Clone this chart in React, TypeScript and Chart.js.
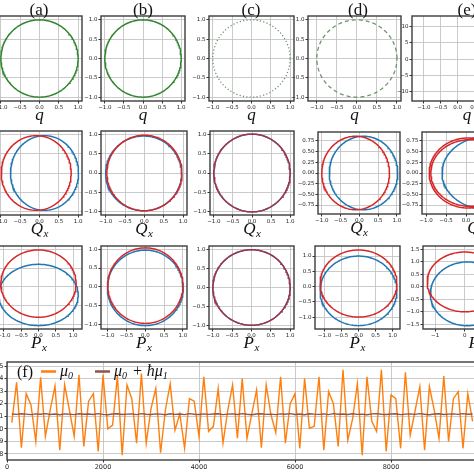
import React, { useEffect, useRef } from 'react';
import { Chart, registerables } from 'chart.js';
Chart.register(...registerables);

// ---------------- tick values ----------------
const TICKS_UNIT = [-1, -0.5, 0, 0.5, 1];
const TICKS_QUARTER = [-0.75, -0.5, -0.25, 0, 0.25, 0.5, 0.75];
const TICKS_TEN = [-10, -5, 0, 5, 10];
const TICKS_HALF = [-1.5, -1, -0.5, 0, 0.5, 1, 1.5];
const TICKS_INT = [-1, 0, 1];
const F_X_TICKS = [0, 2000, 4000, 6000, 8000, 10000];
const F_Y_TICKS = [0.98, 0.99, 1.0, 1.01, 1.02, 1.03, 1.04, 1.05];

const PANEL_TITLES = ['(a)', '(b)', '(c)', '(d)', '(e)'];
const F_LABELS = ['μ0', 'μ0 + ħμ1'];

// ---------------- curve parameters: [cx, cy, rx, ry] ----------------
const A1_GREEN = [0, 0, 1, 1];
const B1_GREEN = [0, 0, 1, 1];
const C1_GREEN = [0, 0, 1, 1];
const D1_GREEN = [0, 0, 1, 1];

const A2_BLUE = [0.13, 0, 0.88, 0.96];
const A2_RED = [-0.085, 0, 0.905, 0.96];
const B2_BLUE = [-0.02, -0.01, 0.98, 0.96];
const B2_RED = [0.0, 0.0, 0.97, 0.97];
const C2_BLUE = [0, 0, 1, 1];
const C2_RED = [0, 0, 1, 1];
const D2_BLUE = [0.11, 0, 0.91, 0.86];
const D2_RED = [-0.1, 0, 0.9, 0.86];
const E2_BLUE = [0.55, 0, 1.15, 0.86];
const E2_RED = [0.05, 0, 0.97, 0.82];
const E2_RED2 = [0.1, 0, 0.98, 0.78];

const A3_BLUE = [0, -0.22, 1.15, 0.82];
const A3_RED = [0, 0.085, 1.09, 0.9];
const B3_BLUE = [0, -0.03, 1.01, 1.01];
const B3_RED = [0, 0.03, 1.0, 1.01];
const C3_BLUE = [0, 0, 1, 1];
const C3_RED = [0, 0, 1, 1];
const D3_BLUE = [0, -0.14, 1.13, 1.14];
const D3_RED = [0, 0.1, 1.13, 1.1];
const E3_BLUE = [0.08, -0.28, 1.24, 1.28];
const E3_RED = [0, 0.2, 1.27, 1.2];

// ---------------- panel (f) series ----------------
const F_T = [
  100, 200, 300, 400, 500, 600, 700, 800, 900, 1000,
  1100, 1200, 1300, 1400, 1500, 1600, 1700, 1800, 1900, 2000,
  2100, 2200, 2300, 2400, 2500, 2600, 2700, 2800, 2900, 3000,
  3100, 3200, 3300, 3400, 3500, 3600, 3700, 3800, 3900, 4000,
  4100, 4200, 4300, 4400, 4500, 4600, 4700, 4800, 4900, 5000,
  5100, 5200, 5300, 5400, 5500, 5600, 5700, 5800, 5900, 6000,
  6100, 6200, 6300, 6400, 6500, 6600, 6700, 6800, 6900, 7000,
  7100, 7200, 7300, 7400, 7500, 7600, 7700, 7800, 7900, 8000,
  8100, 8200, 8300, 8400, 8500, 8600, 8700, 8800, 8900, 9000,
  9100, 9200, 9300, 9400, 9500, 9600, 9700,
];
const MU0 = [
  1.005, 1.037, 0.985, 1.028, 1.019, 0.990, 1.041, 0.994, 1.015, 1.034,
  0.983, 1.035, 1.015, 0.994, 1.043, 0.986, 1.022, 1.028, 0.982, 1.043,
  1.000, 1.003, 1.042, 0.979, 1.035, 1.024, 0.9885, 1.044, 0.9885, 1.016,
  1.032, 0.981, 1.015, 1.036, 0.999, 1.012, 0.9845, 1.024, 1.022, 0.994,
  1.0415, 0.998, 1.002, 1.032, 0.9885, 1.015, 1.035, 0.9925, 1.040, 0.9925,
  1.012, 1.031, 0.985, 1.035, 1.011, 0.997, 1.0415, 0.9885, 1.020, 1.028,
  0.9845, 1.040, 1.0005, 1.002, 1.0415, 0.983, 1.0296, 1.020, 0.986, 1.047,
  0.991, 1.008, 1.036, 0.979, 1.0415, 1.006, 0.998, 1.047, 0.982, 1.027,
  1.024, 0.9845, 1.045, 0.995, 1.014, 1.0336, 0.983, 1.0336, 1.015, 0.9925,
  1.042, 0.990, 1.024, 1.0296, 0.9845, 1.028, 1.006,
];
const MU01 = [
  1.0118, 1.0115, 1.0120, 1.0117, 1.0113, 1.0119, 1.0116, 1.0121, 1.0114, 1.0118,
  1.0112, 1.0119, 1.0117, 1.0113, 1.0120, 1.0116, 1.0118, 1.0114, 1.0121, 1.0115,
  1.0112, 1.0118, 1.0120, 1.0114, 1.0117, 1.0119, 1.0113, 1.0121, 1.0116, 1.0114,
  1.0119, 1.0117, 1.0112, 1.0120, 1.0115, 1.0118, 1.0113, 1.0121, 1.0116, 1.0114,
  1.0119, 1.0115, 1.0118, 1.0120, 1.0113, 1.0117, 1.0119, 1.0114, 1.0121, 1.0116,
  1.0112, 1.0118, 1.0120, 1.0115, 1.0117, 1.0113, 1.0119, 1.0116, 1.0121, 1.0114,
  1.0118, 1.0112, 1.0120, 1.0117, 1.0115, 1.0119, 1.0113, 1.0121, 1.0116, 1.0118,
  1.0114, 1.0120, 1.0115, 1.0117, 1.0112, 1.0119, 1.0121, 1.0116, 1.0114, 1.0118,
  1.0120, 1.0113, 1.0117, 1.0119, 1.0115, 1.0121, 1.0116, 1.0112, 1.0118, 1.0120,
  1.0114, 1.0117, 1.0119, 1.0115, 1.0121, 1.0116, 1.0118,
];

// ---------------- styles ----------------
const GREEN = '#2f862f';
const GREEN_SOFT = '#6a946a';
const RED = '#d62728';
const RED_OVER = 'rgba(200, 30, 40, 0.78)';
const BLUE = '#1f77b4';
const ORANGE = '#ff7f0e';
const BROWN = '#8c564b';
const GRID = '#c4c4c4';
const FRAME = '#3c3c3c';
const TICK_FONT = 'DejaVu Sans';
const SERIF = '"Liberation Serif", "DejaVu Serif", serif';

const LW = 40; // y-axis box width
const TP = 8; // top padding
const RP = 14; // right padding

function ellipse(p: number[], n = 180) {
  const pts: { x: number; y: number }[] = [];
  for (let i = 0; i <= n; i++) {
    const t = (2 * Math.PI * i) / n;
    pts.push({ x: p[0] + p[2] * Math.cos(t), y: p[1] + p[3] * Math.sin(t) });
  }
  return pts;
}

function fmt(v: number, d: number) {
  const s = Math.abs(v).toFixed(d);
  return (v < -1e-9 ? '\u2212' : '') + s;
}

type Curve = { p: number[]; color: string; width?: number; dash?: number[] };
type PanelCfg = {
  frame: [number, number, number, number];
  xlim: [number, number];
  ylim: [number, number];
  xt: number[];
  yt: number[];
  xd: number;
  yd: number;
  label: string;
  sub: string | null;
  curves: Curve[];
};

const Y1: [number, number] = [16, 101];
const Y2: [number, number] = [131, 215];
const Y3: [number, number] = [246, 329];

const PANELS: PanelCfg[] = [
  // row 1
  { frame: [-3.5, Y1[0], 81.5, Y1[1]], xlim: [-1.1, 1.1], ylim: [-1.1, 1.1], xt: TICKS_UNIT, yt: TICKS_UNIT, xd: 1, yd: 1, label: 'q', sub: null,
    curves: [{ p: A1_GREEN, color: GREEN }] },
  { frame: [101, Y1[0], 185, Y1[1]], xlim: [-1.1, 1.1], ylim: [-1.1, 1.1], xt: TICKS_UNIT, yt: TICKS_UNIT, xd: 1, yd: 1, label: 'q', sub: null,
    curves: [{ p: B1_GREEN, color: GREEN }] },
  { frame: [209, Y1[0], 294, Y1[1]], xlim: [-1.1, 1.1], ylim: [-1.1, 1.1], xt: TICKS_UNIT, yt: TICKS_UNIT, xd: 1, yd: 1, label: 'q', sub: null,
    curves: [{ p: C1_GREEN, color: GREEN_SOFT, width: 1.3, dash: [1.2, 2.2] }] },
  { frame: [308, Y1[0], 401, Y1[1]], xlim: [-1.22, 1.1], ylim: [-1.1, 1.1], xt: TICKS_UNIT, yt: TICKS_UNIT, xd: 1, yd: 1, label: 'q', sub: null,
    curves: [{ p: D1_GREEN, color: GREEN_SOFT, width: 1.3, dash: [4, 3] }] },
  { frame: [412, Y1[0], 522, Y1[1]], xlim: [-1.35, 1.9], ylim: [-12.8, 13.2], xt: TICKS_UNIT, yt: TICKS_TEN, xd: 1, yd: 0, label: 'q', sub: null,
    curves: [] },
  // row 2 (later curves drawn on top)
  { frame: [-3.5, Y2[0], 81.5, Y2[1]], xlim: [-1.1, 1.1], ylim: [-1.08, 1.08], xt: TICKS_UNIT, yt: TICKS_UNIT, xd: 1, yd: 1, label: 'Q', sub: 'x',
    curves: [{ p: A2_BLUE, color: BLUE }, { p: A2_RED, color: RED }] },
  { frame: [101, Y2[0], 187, Y2[1]], xlim: [-1.12, 1.1], ylim: [-1.08, 1.08], xt: TICKS_UNIT, yt: TICKS_UNIT, xd: 1, yd: 1, label: 'Q', sub: 'x',
    curves: [{ p: B2_BLUE, color: BLUE }, { p: B2_RED, color: RED }] },
  { frame: [210, Y2[0], 294, Y2[1]], xlim: [-1.1, 1.1], ylim: [-1.08, 1.08], xt: TICKS_UNIT, yt: TICKS_UNIT, xd: 1, yd: 1, label: 'Q', sub: 'x',
    curves: [{ p: C2_BLUE, color: BLUE }, { p: C2_RED, color: RED_OVER }] },
  { frame: [318, 132, 400, 214], xlim: [-1.1, 1.08], ylim: [-0.96, 0.96], xt: TICKS_UNIT, yt: TICKS_QUARTER, xd: 1, yd: 2, label: 'Q', sub: 'x',
    curves: [{ p: D2_BLUE, color: BLUE }, { p: D2_RED, color: RED }] },
  { frame: [422, 132, 530, 214], xlim: [-1.1, 1.6], ylim: [-0.96, 0.96], xt: TICKS_UNIT, yt: TICKS_QUARTER, xd: 1, yd: 2, label: 'Q', sub: 'x',
    curves: [{ p: E2_BLUE, color: BLUE }, { p: E2_RED, color: RED }, { p: E2_RED2, color: RED }] },
  // row 3
  { frame: [-4, Y3[0], 81.7, Y3[1]], xlim: [-1.23, 1.26], ylim: [-1.13, 1.09], xt: TICKS_UNIT, yt: TICKS_UNIT, xd: 1, yd: 1, label: 'P', sub: 'x',
    curves: [{ p: A3_BLUE, color: BLUE }, { p: A3_RED, color: RED }] },
  { frame: [101, Y3[0], 187, Y3[1]], xlim: [-1.18, 1.11], ylim: [-1.13, 1.09], xt: TICKS_UNIT, yt: TICKS_UNIT, xd: 1, yd: 1, label: 'P', sub: 'x',
    curves: [{ p: B3_BLUE, color: BLUE }, { p: B3_RED, color: RED }] },
  { frame: [209, Y3[0], 294, Y3[1]], xlim: [-1.1, 1.1], ylim: [-1.1, 1.1], xt: TICKS_UNIT, yt: TICKS_UNIT, xd: 1, yd: 1, label: 'P', sub: 'x',
    curves: [{ p: C3_BLUE, color: BLUE }, { p: C3_RED, color: RED_OVER }] },
  { frame: [315, Y3[0], 400, Y3[1]], xlim: [-1.28, 1.22], ylim: [-1.39, 1.33], xt: TICKS_UNIT, yt: TICKS_UNIT, xd: 1, yd: 1, label: 'P', sub: 'x',
    curves: [{ p: D3_BLUE, color: BLUE }, { p: D3_RED, color: RED }] },
  { frame: [423, Y3[0], 530, Y3[1]], xlim: [-1.41, 2.2], ylim: [-1.69, 1.64], xt: TICKS_INT, yt: TICKS_HALF, xd: 0, yd: 1, label: 'P', sub: 'x',
    curves: [{ p: E3_BLUE, color: BLUE }, { p: E3_RED, color: RED }] },
];

const framePlugin = {
  id: 'frame',
  afterDatasetsDraw(chart: any) {
    const { ctx, chartArea: a } = chart;
    ctx.save();
    ctx.strokeStyle = FRAME;
    ctx.lineWidth = 1.4;
    ctx.strokeRect(a.left, a.top, a.right - a.left, a.bottom - a.top);
    ctx.restore();
  },
};

function axisOpts(lim: [number, number], ticks: number[], dec: number, size: number, horizontal: boolean, box: number) {
  return {
    type: 'linear',
    position: horizontal ? 'bottom' : 'left',
    min: lim[0],
    max: lim[1],
    afterBuildTicks: (s: any) => {
      s.ticks = ticks.filter((v) => v >= lim[0] - 1e-9 && v <= lim[1] + 1e-9).map((v) => ({ value: v }));
    },
    afterFit: (s: any) => {
      if (horizontal) {
        s.height = box;
        s.paddingLeft = 0;
        s.paddingRight = 0;
      } else {
        s.width = box;
        s.paddingTop = 0;
        s.paddingBottom = 0;
      }
    },
    ticks: {
      callback: (v: any) => fmt(Number(v), dec),
      font: { size, family: TICK_FONT },
      color: '#262626',
      padding: 1,
      maxRotation: 0,
      minRotation: 0,
      autoSkip: false,
    },
    grid: { color: GRID, lineWidth: 0.9, drawTicks: true, tickLength: 2.5, tickColor: '#333', tickWidth: 1 },
    border: { display: false },
  };
}

function ScatterPanel({ cfg }: { cfg: PanelCfg }) {
  const ref = useRef<HTMLCanvasElement>(null);
  const BH = 30;
  const [x0, y0, x1, y1] = cfg.frame;
  const w = Math.round(x1 - x0 + LW + RP);
  const h = Math.round(y1 - y0 + TP + BH);
  useEffect(() => {
    const labelPlugin = {
      id: 'xlab',
      afterDraw(chart: any) {
        const { ctx, chartArea: a } = chart;
        ctx.save();
        ctx.fillStyle = '#111';
        ctx.textBaseline = 'alphabetic';
        const f1 = 'italic 17px ' + SERIF;
        const f2 = 'italic 11px ' + SERIF;
        ctx.font = f1;
        const w1 = ctx.measureText(cfg.label).width;
        let w2 = 0;
        if (cfg.sub) {
          ctx.font = f2;
          w2 = ctx.measureText(cfg.sub).width + 0.5;
        }
        const cx = (a.left + a.right) / 2;
        const sx = cx - (w1 + w2) / 2;
        const base = a.bottom + 19;
        ctx.font = f1;
        ctx.fillText(cfg.label, sx, base);
        if (cfg.sub) {
          ctx.font = f2;
          ctx.fillText(cfg.sub, sx + w1 + 0.5, base + 3);
        }
        ctx.restore();
      },
    };
    const chart = new Chart(ref.current as HTMLCanvasElement, {
      type: 'scatter',
      data: {
        datasets: cfg.curves.map((c, i) => ({
          data: ellipse(c.p),
          showLine: true,
          borderColor: c.color,
          backgroundColor: c.color,
          borderWidth: c.width ?? 1.5,
          borderDash: c.dash ?? [],
          pointRadius: 0,
          tension: 0,
          order: cfg.curves.length - i,
        })),
      },
      options: {
        responsive: false,
        animation: false,
        devicePixelRatio: 1,
        events: [],
        layout: { padding: { left: 0, top: TP, right: RP, bottom: 0 } },
        plugins: { legend: { display: false }, tooltip: { enabled: false } },
        scales: {
          x: axisOpts(cfg.xlim, cfg.xt, cfg.xd, 5.5, true, BH),
          y: axisOpts(cfg.ylim, cfg.yt, cfg.yd, 5.5, false, LW),
        },
      } as any,
      plugins: [framePlugin, labelPlugin],
    });
    return () => chart.destroy();
  }, []);
  return (
    <canvas
      ref={ref}
      width={w}
      height={h}
      style={{ position: 'absolute', left: x0 - LW, top: y0 - TP, width: w, height: h }}
    />
  );
}

function MuPanel() {
  const ref = useRef<HTMLCanvasElement>(null);
  const frame = [7, 362, 487, 460];
  const BH = 14;
  const w = frame[2] - frame[0] + LW + RP;
  const h = frame[3] - frame[1] + TP + BH;
  useEffect(() => {
    const legendPlugin = {
      id: 'flegend',
      afterDatasetsDraw(chart: any) {
        const { ctx, chartArea: a } = chart;
        ctx.save();
        ctx.textBaseline = 'alphabetic';
        ctx.fillStyle = '#111';
        ctx.font = '16px ' + SERIF;
        ctx.fillText('(f)', a.left + 10, a.top + 15);
        const items = [
          { color: ORANGE, x: 34, parts: [['μ', 0], ['0', 1]] },
          { color: BROWN, x: 88, parts: [['μ', 0], ['0', 1], [' + ħμ', 0], ['1', 1]] },
        ];
        items.forEach((it) => {
          ctx.strokeStyle = it.color;
          ctx.lineWidth = 2.5;
          ctx.beginPath();
          ctx.moveTo(a.left + it.x, a.top + 9.5);
          ctx.lineTo(a.left + it.x + 15, a.top + 9.5);
          ctx.stroke();
          let x = a.left + it.x + 19;
          it.parts.forEach(([t, sub]) => {
            ctx.font = sub ? 'italic 10px ' + SERIF : 'italic 16px ' + SERIF;
            ctx.fillText(t as string, x, a.top + 14 + (sub ? 3 : 0));
            x += ctx.measureText(t as string).width + (sub ? 1 : 0);
          });
        });
        ctx.restore();
      },
    };
    const chart = new Chart(ref.current as HTMLCanvasElement, {
      type: 'scatter',
      data: {
        datasets: [
          {
            label: F_LABELS[0],
            data: F_T.map((t, i) => ({ x: t, y: MU0[i] })),
            showLine: true,
            borderColor: ORANGE,
            backgroundColor: ORANGE,
            borderWidth: 1.4,
            pointRadius: 0,
            tension: 0,
            order: 2,
          },
          {
            label: F_LABELS[1],
            data: F_T.map((t, i) => ({ x: t, y: MU01[i] })),
            showLine: true,
            borderColor: BROWN,
            backgroundColor: BROWN,
            borderWidth: 1.4,
            pointRadius: 0,
            tension: 0,
            order: 1,
          },
        ],
      },
      options: {
        responsive: false,
        animation: false,
        devicePixelRatio: 1,
        events: [],
        layout: { padding: { left: 0, top: TP, right: RP, bottom: 0 } },
        plugins: { legend: { display: false }, tooltip: { enabled: false } },
        scales: {
          x: axisOpts([0, 10000], F_X_TICKS, 0, 6.5, true, BH),
          y: axisOpts([0.9752, 1.0532], F_Y_TICKS, 2, 6.5, false, LW),
        },
      } as any,
      plugins: [framePlugin, legendPlugin],
    });
    return () => chart.destroy();
  }, []);
  return (
    <canvas
      ref={ref}
      width={w}
      height={h}
      style={{ position: 'absolute', left: frame[0] - LW, top: frame[1] - TP, width: w, height: h }}
    />
  );
}

const TITLE_X = [39, 143, 251, 358, 467];

export default function App() {
  return (
    <div style={{ position: 'absolute', left: 0, top: 0, width: 474, height: 474, overflow: 'hidden', background: '#fff' }}>
      {PANELS.map((p, i) => (
        <ScatterPanel key={i} cfg={p} />
      ))}
      <MuPanel />
      {PANEL_TITLES.map((t, i) => (
        <div
          key={t}
          style={{
            position: 'absolute',
            left: TITLE_X[i],
            top: 0,
            transform: 'translateX(-50%)',
            font: '17px ' + SERIF,
            lineHeight: '19px',
            color: '#111',
            whiteSpace: 'nowrap',
          }}
        >
          {t}
        </div>
      ))}
    </div>
  );
}
